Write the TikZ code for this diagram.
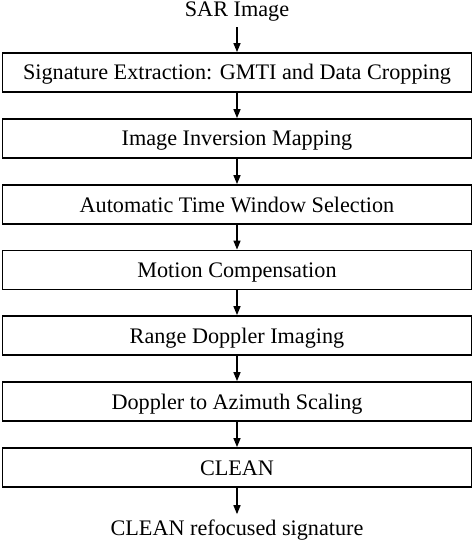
\documentclass[tikz,border=0pt]{standalone}
\usepackage{fontspec}
\setmainfont{Liberation Serif}
\usetikzlibrary{arrows.meta}
\begin{document}
\begin{tikzpicture}[x=1pt,y=-1pt,
  stepbox/.style={draw=black,line width=1.8pt,minimum width=469pt,minimum height=39pt,inner sep=0pt,
    text height=15pt,text depth=0pt,font=\fontsize{22.2}{26}\selectfont},
  plain/.style={inner sep=2pt,font=\fontsize{22.2}{26}\selectfont},
  flow/.style={line width=1.4pt,-{Triangle[length=9pt,width=7pt]}}]
\useasboundingbox (0,0) rectangle (474,540);
\node[plain,anchor=base] (sar) at (237,16.2) {SAR Image};
\node[stepbox] (b1) at (237,72.5) {Signature Extraction: GMTI and Data Cropping};
\node[stepbox] (b2) at (237,138.5) {Image Inversion Mapping};
\node[stepbox] (b3) at (237,204.5) {Automatic Time Window Selection};
\node[stepbox] (b4) at (237,270) {Motion Compensation};
\node[stepbox] (b5) at (237,335.5) {Range Doppler Imaging};
\node[stepbox] (b6) at (237,401.5) {Doppler to Azimuth Scaling};
\node[stepbox] (b7) at (237,467.5) {CLEAN};
\node[plain,anchor=base] (out) at (237,535) {CLEAN refocused signature};
\draw[flow,shorten <=4pt] (sar) -- (b1);
\draw[flow] (b1) -- (b2);
\draw[flow] (b2) -- (b3);
\draw[flow] (b3) -- (b4);
\draw[flow] (b4) -- (b5);
\draw[flow] (b5) -- (b6);
\draw[flow] (b6) -- (b7);
\draw[flow,shorten >=3pt] (b7) -- (out);
\end{tikzpicture}
\end{document}
